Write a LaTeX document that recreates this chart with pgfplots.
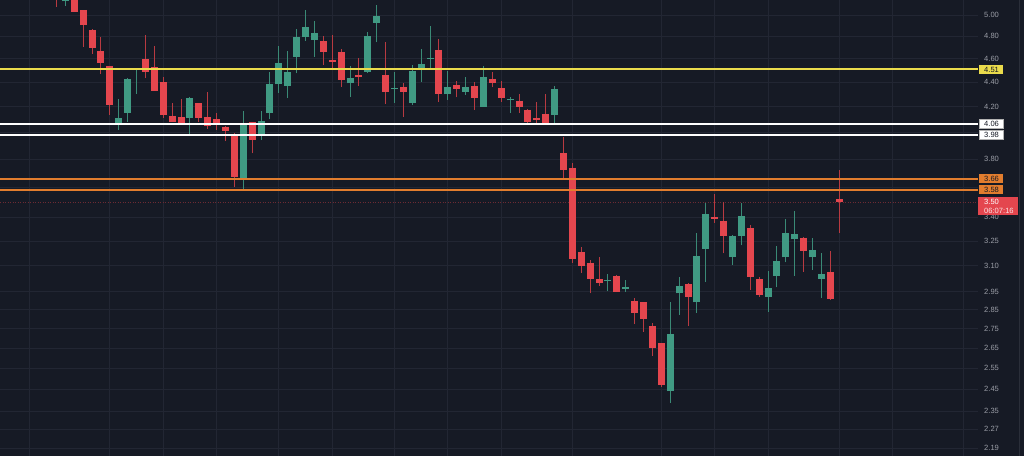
\documentclass[border=0pt]{standalone}
\usepackage{fontspec}
\setmainfont{Liberation Sans}
\usepackage{pgfplots}
\pgfplotsset{compat=1.18}
\definecolor{bg}{HTML}{161A25}
\definecolor{gridc}{HTML}{222633}
\definecolor{upc}{HTML}{409A83}
\definecolor{dnc}{HTML}{E4464E}
\definecolor{upw}{HTML}{3A8A76}
\definecolor{dnw}{HTML}{B83A41}
\definecolor{yel}{HTML}{EADB4C}
\definecolor{org}{HTML}{E27D2E}
\definecolor{tickc}{HTML}{9A9DA6}
\definecolor{curc}{HTML}{6E2A33}
\definecolor{sepc}{HTML}{2A2E39}
\begin{document}
\begin{tikzpicture}[x=1bp,y=1bp]
\fill[bg] (0,0) rectangle (1024,456);
\begin{axis}[
  at={(0,0)}, anchor=south west, scale only axis,
  width=978bp, height=456bp,
  xmin=-8.353, xmax=101.6,
  ymode=log, ymin=2.1568, ymax=5.1451,
  axis line style={draw=none}, major tick length=0pt,
  xtick={-5,4,10,16,23,29,36,42,48,56,66,72,78,86,92,100},
  xticklabels={},
  ytick={2.19,2.27,2.35,2.45,2.55,2.65,2.75,2.85,2.95,3.10,3.25,3.40,3.80,4.20,4.40,4.60,4.80,5.00},
  yticklabels={2.19,2.27,2.35,2.45,2.55,2.65,2.75,2.85,2.95,3.10,3.25,3.40,3.80,4.20,4.40,4.60,4.80,5.00},
  extra y ticks={3.60,4.00}, extra y tick labels={},
  extra y tick style={grid=major},
  xmajorgrids, ymajorgrids,
  grid style={gridc, line width=0.8bp},
  yticklabel pos=right,
  yticklabel style={font=\fontsize{7.6}{8}\selectfont, text=tickc, anchor=west, inner sep=0pt, xshift=6bp},
  unbounded coords=jump, clip=true,
]
% current price line
\addplot[curc, line width=1bp, dash pattern=on 1bp off 1.5bp] coordinates {(-8.353,3.5) (101.6,3.5)};
% red wicks
\addplot[dnw, line width=1bp] coordinates {
(-2,5.080)(-2,5.345)(-2,nan)
(0,5.029)(0,5.224)(0,nan)
(1,4.706)(1,5.050)(1,nan)
(2,4.642)(2,4.868)(2,nan)
(3,4.468)(3,4.792)(3,nan)
(4,4.132)(4,4.540)(4,nan)
(8,4.432)(8,4.813)(8,nan)
(9,4.326)(9,4.715)(9,nan)
(10,4.108)(10,4.440)(10,nan)
(11,4.077)(11,4.228)(11,nan)
(12,4.062)(12,4.260)(12,nan)
(14,4.080)(14,4.228)(14,nan)
(15,4.024)(15,4.320)(15,nan)
(16,4.016)(16,4.150)(16,nan)
(17,3.932)(17,4.046)(17,nan)
(18,3.604)(18,3.992)(18,nan)
(20,3.841)(20,4.077)(20,nan)
(28,4.545)(28,4.804)(28,nan)
(29,4.502)(29,4.813)(29,nan)
(30,4.361)(30,4.686)(30,nan)
(32,4.369)(32,4.604)(32,nan)
(35,4.220)(35,4.746)(35,nan)
(37,4.118)(37,4.389)(37,nan)
(41,4.238)(41,4.776)(41,nan)
(43,4.274)(43,4.411)(43,nan)
(45,4.172)(45,4.403)(45,nan)
(47,4.356)(47,4.488)(47,nan)
(48,4.238)(48,4.409)(48,nan)
(50,4.150)(50,4.298)(50,nan)
(51,4.062)(51,4.180)(51,nan)
(52,4.067)(52,4.238)(52,nan)
(53,4.070)(53,4.298)(53,nan)
(55,3.662)(55,3.960)(55,nan)
(56,3.118)(56,3.769)(56,nan)
(57,3.059)(57,3.214)(57,nan)
(58,2.941)(58,3.134)(58,nan)
(59,2.984)(59,3.150)(59,nan)
(61,2.948)(61,3.046)(61,nan)
(63,2.773)(63,2.914)(63,nan)
(64,2.734)(64,2.893)(64,nan)
(65,2.611)(65,2.781)(65,nan)
(66,2.462)(66,2.677)(66,nan)
(69,2.764)(69,3.001)(69,nan)
(72,3.365)(72,3.554)(72,nan)
(73,3.174)(73,3.503)(73,nan)
(76,2.960)(76,3.350)(76,nan)
(77,2.922)(77,3.034)(77,nan)
(82,3.065)(82,3.275)(82,nan)
(85,2.904)(85,3.190)(85,nan)
(86,3.302)(86,3.721)
};
% green wicks
\addplot[upw, line width=1bp] coordinates {
(-1,5.087)(-1,5.224)(-1,nan)
(5,4.016)(5,4.260)(5,nan)
(6,4.080)(6,4.437)(6,nan)
(7,4.301)(7,4.517)(7,nan)
(13,3.977)(13,4.277)(13,nan)
(19,3.588)(19,4.164)(19,nan)
(21,3.940)(21,4.164)(21,nan)
(22,4.100)(22,4.488)(22,nan)
(23,4.311)(23,4.715)(23,nan)
(24,4.266)(24,4.671)(24,nan)
(25,4.474)(25,4.868)(25,nan)
(26,4.761)(26,5.048)(26,nan)
(27,4.618)(27,4.943)(27,nan)
(31,4.279)(31,4.537)(31,nan)
(33,4.476)(33,4.843)(33,nan)
(34,4.746)(34,5.096)(34,nan)
(36,4.230)(36,4.488)(36,nan)
(38,4.211)(38,4.545)(38,nan)
(39,4.403)(39,4.686)(39,nan)
(40,4.517)(40,4.896)(40,nan)
(42,4.252)(42,4.496)(42,nan)
(44,4.293)(44,4.445)(44,nan)
(46,4.196)(46,4.537)(46,nan)
(49,4.150)(49,4.279)(49,nan)
(54,4.067)(54,4.367)(54,nan)
(60,2.954)(60,3.049)(60,nan)
(62,2.950)(62,3.017)(62,nan)
(67,2.385)(67,2.891)(67,nan)
(68,2.822)(68,3.032)(68,nan)
(70,2.835)(70,3.302)(70,nan)
(71,3.004)(71,3.492)(71,nan)
(74,3.103)(74,3.287)(74,nan)
(75,3.223)(75,3.492)(75,nan)
(78,2.840)(78,3.071)(78,nan)
(79,2.975)(79,3.218)(79,nan)
(80,3.120)(80,3.389)(80,nan)
(81,3.041)(81,3.441)(81,nan)
(83,3.075)(83,3.267)(83,nan)
(84,2.914)(84,3.174)
};
% red bodies
\addplot[dnc, line width=7bp, line cap=butt] coordinates {
(-2,5.294)(-2,5.175)(-2,nan)
(0,5.194)(0,5.032)(0,nan)
(1,5.048)(1,4.906)(1,nan)
(2,4.859)(2,4.697)(2,nan)
(3,4.668)(3,4.560)(3,nan)
(4,4.537)(4,4.211)(4,nan)
(8,4.598)(8,4.483)(8,nan)
(9,4.526)(9,4.328)(9,nan)
(10,4.398)(10,4.132)(10,nan)
(11,4.126)(11,4.080)(11,nan)
(12,4.118)(12,4.067)(12,nan)
(14,4.225)(14,4.110)(14,nan)
(15,4.118)(15,4.048)(15,nan)
(16,4.098)(16,4.059)(16,nan)
(17,4.041)(17,4.010)(17,nan)
(18,3.977)(18,3.669)(18,nan)
(20,4.075)(20,3.940)(20,nan)
(28,4.755)(28,4.657)(28,nan)
(29,4.589)(29,4.569)(29,nan)
(30,4.657)(30,4.417)(30,nan)
(32,4.459)(32,4.445)(32,nan)
(35,4.457)(35,4.320)(35,nan)
(37,4.356)(37,4.320)(37,nan)
(41,4.677)(41,4.298)(41,nan)
(43,4.375)(43,4.340)(43,nan)
(45,4.367)(45,4.271)(45,nan)
(47,4.428)(47,4.389)(47,nan)
(48,4.348)(48,4.271)(48,nan)
(50,4.246)(50,4.198)(50,nan)
(51,4.172)(51,4.077)(51,nan)
(52,4.110)(52,4.093)(52,nan)
(53,4.137)(53,4.072)(53,nan)
(55,3.841)(55,3.721)(55,nan)
(56,3.737)(56,3.140)(56,nan)
(57,3.180)(57,3.100)(57,nan)
(58,3.118)(58,3.022)(58,nan)
(59,3.021)(59,3.001)(59,nan)
(61,3.040)(61,2.950)(61,nan)
(63,2.900)(63,2.831)(63,nan)
(64,2.891)(64,2.802)(64,nan)
(65,2.764)(65,2.651)(65,nan)
(66,2.674)(66,2.471)(66,nan)
(69,2.992)(69,2.922)(69,nan)
(72,3.402)(72,3.389)(72,nan)
(73,3.378)(73,3.283)(73,nan)
(76,3.329)(76,3.032)(76,nan)
(77,3.021)(77,2.932)(77,nan)
(82,3.270)(82,3.190)(82,nan)
(85,3.061)(85,2.910)(85,nan)
(86,3.519)(86,3.500)
};
% green bodies
\addplot[upc, line width=7bp, line cap=butt] coordinates {
(-1,5.132)(-1,5.194)(-1,nan)
(5,4.072)(5,4.108)(5,nan)
(6,4.150)(6,4.428)(6,nan)
(7,4.502)(7,4.511)(7,nan)
(13,4.110)(13,4.271)(13,nan)
(19,3.650)(19,4.067)(19,nan)
(21,3.977)(21,4.087)(21,nan)
(22,4.146)(22,4.381)(22,nan)
(23,4.381)(23,4.560)(23,nan)
(24,4.369)(24,4.488)(24,nan)
(25,4.618)(25,4.797)(25,nan)
(26,4.797)(26,4.884)(26,nan)
(27,4.767)(27,4.828)(27,nan)
(31,4.389)(31,4.437)(31,nan)
(33,4.488)(33,4.806)(33,nan)
(34,4.927)(34,4.990)(34,nan)
(36,4.340)(36,4.353)(36,nan)
(38,4.230)(38,4.496)(38,nan)
(39,4.517)(39,4.554)(39,nan)
(40,4.597)(40,4.606)(40,nan)
(42,4.298)(42,4.356)(42,nan)
(44,4.320)(44,4.356)(44,nan)
(46,4.198)(46,4.440)(46,nan)
(49,4.248)(49,4.256)(49,nan)
(54,4.132)(54,4.340)(54,nan)
(60,3.012)(60,3.018)(60,nan)
(62,2.968)(62,2.974)(62,nan)
(67,2.441)(67,2.723)(67,nan)
(68,2.941)(68,2.982)(68,nan)
(70,2.891)(70,3.160)(70,nan)
(71,3.201)(71,3.419)(71,nan)
(74,3.150)(74,3.281)(74,nan)
(75,3.283)(75,3.410)(75,nan)
(78,2.922)(78,2.970)(78,nan)
(79,3.040)(79,3.130)(79,nan)
(80,3.150)(80,3.302)(80,nan)
(81,3.260)(81,3.292)(81,nan)
(83,3.150)(83,3.192)(83,nan)
(84,3.023)(84,3.049)
};
% level lines
\addplot[yel, line width=1.8bp] coordinates {(-8.353,4.51) (101.6,4.51)};
\addplot[white, line width=2.4bp] coordinates {(-8.353,4.06) (101.6,4.06)};
\addplot[white, line width=2.4bp] coordinates {(-8.353,3.98) (101.6,3.98)};
\addplot[org, line width=2bp] coordinates {(-8.353,3.66) (101.6,3.66)};
\addplot[org, line width=2bp] coordinates {(-8.353,3.58) (101.6,3.58)};
\end{axis}
\draw[sepc, line width=0.8bp] (1019.6,0) -- (1019.6,456);
% price labels
\tikzset{plab/.style={anchor=west, inner sep=0pt, font=\fontsize{7.6}{8}\selectfont}}
\fill[yel] (978.7,381.8) rectangle (1002.7,390.8);
\node[plab, text=bg] at (984,386.3) {4.51};
\filldraw[fill=white, draw=gray!60, line width=0.4bp] (978.7,327.3) rectangle (1002.7,336.3);
\node[plab, text=bg] at (984,331.8) {4.06};
\filldraw[fill=white, draw=gray!60, line width=0.4bp] (978.7,316.5) rectangle (1002.7,325.5);
\node[plab, text=bg] at (984,321) {3.98};
\fill[org] (978.7,272.8) rectangle (1002.7,281.8);
\node[plab, text=bg] at (984,277.3) {3.66};
\fill[org] (978.7,261.8) rectangle (1002.7,270.8);
\node[plab, text=bg] at (984,266.3) {3.58};
\fill[dnc] (978,241) rectangle (1018,258.7);
\node[plab, text=white] at (984,253.6) {3.50};
\node[plab, text=white!85!dnc] at (984,245.4) {06:07:16};
\pgfresetboundingbox
\path[use as bounding box] (0,0) rectangle (1024,456);
\end{tikzpicture}
\end{document}
